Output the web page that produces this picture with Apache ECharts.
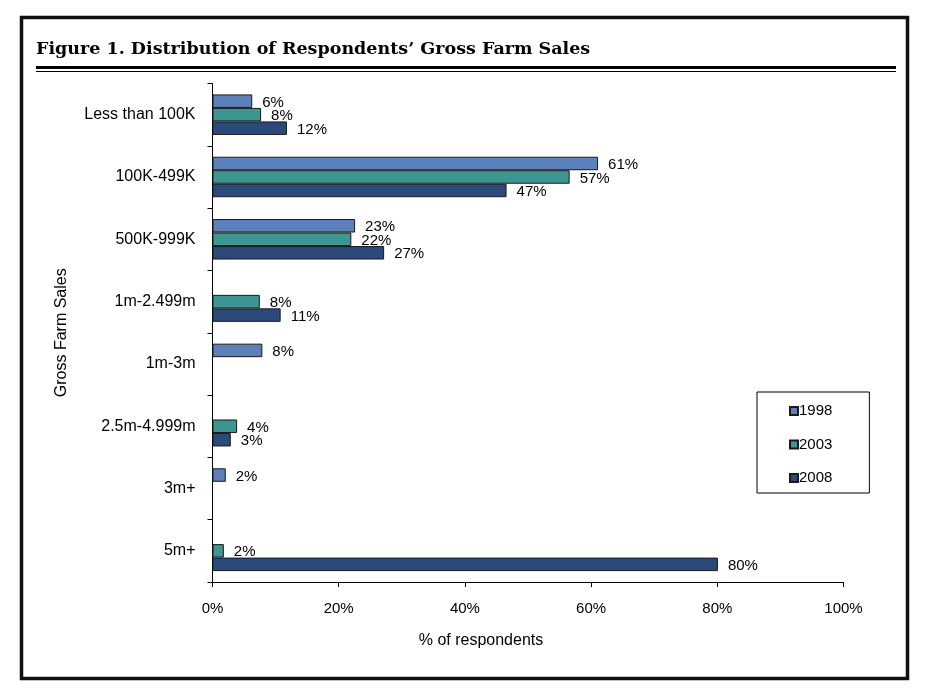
<!DOCTYPE html>
<html>
<head>
<meta charset="utf-8">
<script src="https://cdn.jsdelivr.net/npm/echarts@6/dist/echarts.min.js"></script>
<style>
html,body{margin:0;padding:0;background:#fff;}
#chart{width:928px;height:698px;}
</style>
</head>
<body>
<div id="chart"></div>
<script>
const categories = ['Less than 100K','100K-499K','500K-999K','1m-2.499m','1m-3m','2.5m-4.999m','3m+','5m+'];
const seriesNames = ['1998','2003','2008'];
const values1998 = [6.3, 61.1, 22.6, null, 7.9, null, 2.1, null];
const values2003 = [7.7, 56.6, 22.0, 7.5, null, 3.9, null, 1.8];
const values2008 = [11.8, 46.6, 27.2, 10.8, null, 2.9, null, 80.1];
const xTicks = [0, 20, 40, 60, 80, 100];
const colors = ['#5b80ba', '#3e9692', '#2b4a7a'];

const font = '"Liberation Sans", Arial, sans-serif';
const chart = echarts.init(document.getElementById('chart'));

function mk(name, data, color) {
  return {
    name: name,
    type: 'bar',
    data: data,
    barWidth: 13.5,
    barGap: '0%',
    itemStyle: { color: color, borderColor: '#1a1a1a', borderWidth: 1 },
    label: {
      show: true,
      position: 'right',
      distance: 10,
      offset: [0, 1.5],
      color: '#000',
      fontFamily: font,
      fontSize: 15,
      formatter: p => (p.value == null ? '' : Math.round(p.value) + '%')
    },
    animation: false
  };
}

chart.setOption({
  backgroundColor: '#fff',
  animation: false,
  grid: { left: 212.5, right: 84.5, top: 83.5, bottom: 116 },
  xAxis: {
    type: 'value',
    min: xTicks[0],
    max: xTicks[xTicks.length - 1],
    interval: 20,
    splitLine: { show: false },
    axisLine: { show: true, lineStyle: { color: '#000', width: 1 } },
    axisTick: { show: true, length: 5, lineStyle: { color: '#000' } },
    axisLabel: { color: '#000', fontFamily: font, fontSize: 15, margin: 19, formatter: v => v + '%' }
  },
  yAxis: {
    type: 'category',
    data: categories,
    inverse: true,
    name: 'Gross Farm Sales',
    nameLocation: 'middle',
    nameGap: 143,
    nameTextStyle: { color: '#000', fontFamily: font, fontSize: 16 },
    axisLine: { show: true, lineStyle: { color: '#000', width: 1 } },
    axisTick: { show: true, length: 5, lineStyle: { color: '#000' } },
    axisLabel: { color: '#000', fontFamily: font, fontSize: 16, margin: 17 }
  },
  legend: {
    orient: 'vertical',
    left: 757,
    top: 392,
    padding: [11, 37, 7, 32],
    borderColor: '#000',
    borderWidth: 1,
    icon: 'rect',
    itemWidth: 8,
    itemHeight: 8,
    itemGap: 17.5,
    data: seriesNames,
    textStyle: { color: '#000', fontFamily: font, fontSize: 15, lineHeight: 16, padding: [0, 0, 0, -4] }
  },
  series: [
    mk(seriesNames[0], values1998, colors[0]),
    mk(seriesNames[1], values2003, colors[1]),
    mk(seriesNames[2], values2008, colors[2])
  ],
  graphic: [
    { type: 'rect', shape: { x: 21.5, y: 17.5, width: 886, height: 661 }, style: { fill: null, stroke: '#111', lineWidth: 3.5 }, silent: true },
    { type: 'text', left: 36, top: 40, style: { text: 'Figure 1. Distribution of Respondents\u2019 Gross Farm Sales', font: 'bold 17.5px "DejaVu Serif", serif', fill: '#000' } },
    { type: 'rect', shape: { x: 36, y: 66, width: 860, height: 3 }, style: { fill: '#000' }, silent: true },
    { type: 'rect', shape: { x: 36, y: 71, width: 860, height: 1 }, style: { fill: '#000' }, silent: true },
    { type: 'text', x: 481, y: 641, style: { text: '% of respondents', font: '16px "Liberation Sans", Arial, sans-serif', fill: '#000', align: 'center', verticalAlign: 'middle' } }
  ]
});
</script>
</body>
</html>
